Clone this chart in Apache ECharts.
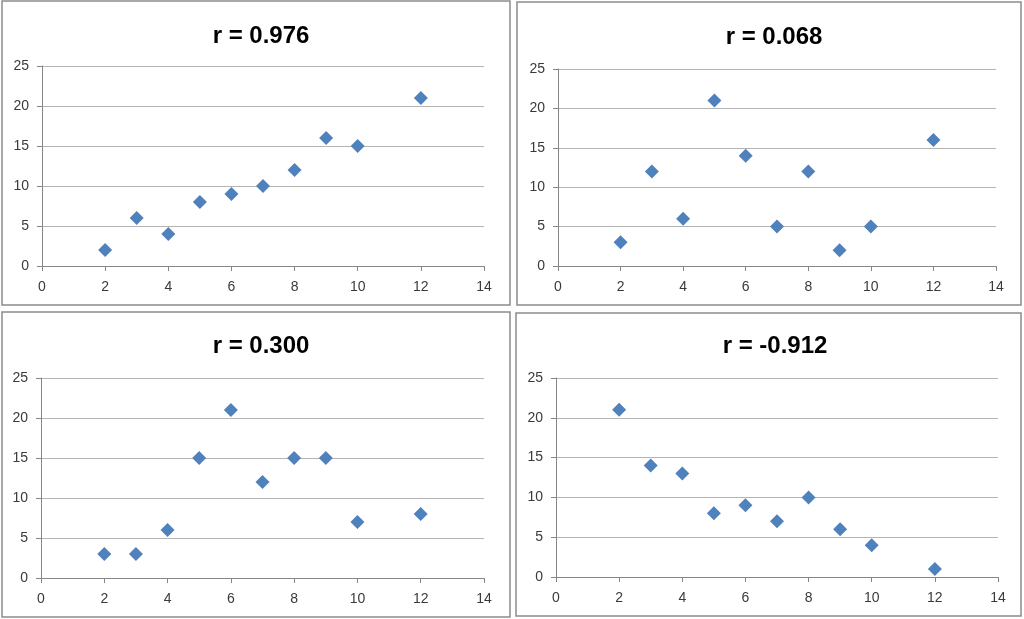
<!doctype html>
<html>
    <head>
        <meta charset="UTF-8">
        <title>Correlation examples</title>
        <style>
            html, body { margin: 0; padding: 0; background: #fff; }
            #main { width: 1024px; height: 619px; }
        </style>
    </head>
    <body>
        <div id="main"></div>
        <script src="https://cdn.jsdelivr.net/npm/echarts@6/dist/echarts.min.js"></script>
        <script type="text/javascript">
            // data
            var xValues = [2, 3, 4, 5, 6, 7, 8, 9, 10, 12];
            var yStrong = [2, 6, 4, 8, 9, 10, 12, 16, 15, 21];
            var yNone = [3, 12, 6, 21, 14, 5, 12, 2, 5, 16];
            var yWeak = [3, 3, 6, 15, 21, 12, 15, 15, 7, 8];
            var yNegative = [21, 14, 13, 8, 9, 7, 10, 6, 4, 1];
            var titles = ['r = 0.976', 'r = 0.068', 'r = 0.300', 'r = -0.912'];
            var ySets = [yStrong, yNone, yWeak, yNegative];

            // panel layout (pixels)
            var grids = [
                { left: 42, top: 66, width: 442, height: 200 },
                { left: 558, top: 69, width: 438, height: 197 },
                { left: 41, top: 378, width: 443, height: 200 },
                { left: 556, top: 378, width: 442, height: 199 }
            ];
            var boxes = [
                { x: 2, y: 1, width: 508, height: 304 },
                { x: 517, y: 2, width: 504, height: 303 },
                { x: 2, y: 312, width: 508, height: 305 },
                { x: 516, y: 313, width: 505, height: 303 }
            ];
            var titlePos = [
                { x: 256, y: 19 },
                { x: 769, y: 20 },
                { x: 256, y: 329 },
                { x: 770, y: 329 }
            ];

            var labelStyle = { color: '#3a3a3a', fontSize: 14, fontFamily: 'Liberation Sans' };
            var axisLineStyle = { color: '#868686', width: 1 };

            var pairs = function (ys) {
                return xValues.map(function (x, i) { return [x, ys[i]]; });
            };

            var option = {
                backgroundColor: '#fff',
                animation: false,
                title: titles.map(function (t, i) {
                    return {
                        text: t,
                        left: titlePos[i].x,
                        top: titlePos[i].y,
                        textAlign: 'center',
                        textStyle: { fontSize: 24, fontWeight: 'bold', color: '#000', fontFamily: 'Liberation Sans' }
                    };
                }),
                graphic: boxes.map(function (b) {
                    return {
                        type: 'rect',
                        shape: b,
                        style: { fill: 'none', stroke: '#8c8c8c', lineWidth: 1.5 },
                        silent: true
                    };
                }),
                grid: grids,
                xAxis: grids.map(function (g, i) {
                    return {
                        type: 'value',
                        gridIndex: i,
                        min: 0,
                        max: 14,
                        interval: 2,
                        splitLine: { show: false },
                        axisLine: { show: true, lineStyle: axisLineStyle },
                        axisTick: { show: true, length: 5, lineStyle: axisLineStyle },
                        axisLabel: Object.assign({ margin: 14 }, labelStyle)
                    };
                }),
                yAxis: grids.map(function (g, i) {
                    return {
                        type: 'value',
                        gridIndex: i,
                        min: 0,
                        max: 25,
                        interval: 5,
                        splitLine: { show: true, lineStyle: { color: '#b4b4b4', width: 1 } },
                        axisLine: { show: true, lineStyle: axisLineStyle },
                        axisTick: { show: true, length: 5, lineStyle: axisLineStyle },
                        axisLabel: Object.assign({ margin: 13 }, labelStyle)
                    };
                }),
                series: ySets.map(function (ys, i) {
                    return {
                        type: 'scatter',
                        xAxisIndex: i,
                        yAxisIndex: i,
                        symbol: 'diamond',
                        symbolSize: [14, 14],
                        itemStyle: { color: '#4f81bd', opacity: 1 },
                        data: pairs(ys)
                    };
                })
            };

            var myChart = echarts.init(document.getElementById('main'));
            myChart.setOption(option);
        </script>
    </body>
</html>
